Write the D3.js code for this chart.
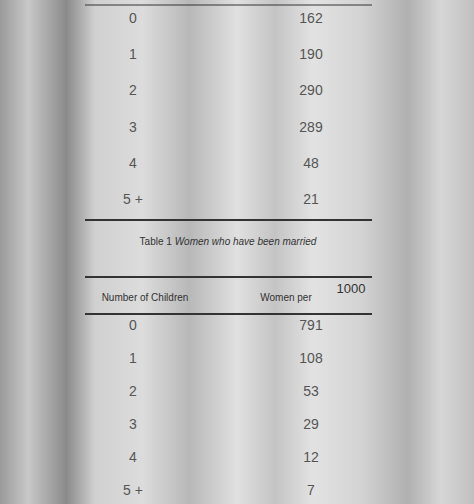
<!DOCTYPE html>
<html><head><meta charset="utf-8">
<script src="https://cdn.jsdelivr.net/npm/d3@7"></script>
<style>body{margin:0;background:#ccc}</style></head>
<body><svg id="c" width="474" height="504"></svg>
<script>
const children1 = ["0","1","2","3","4","5 +"];
const values1 = [162,190,290,289,48,21];
const children2 = ["0","1","2","3","4","5 +"];
const values2 = [791,108,53,29,12,7];
const caption = ["Table 1 ","Women who have been married"];
const headers = ["Number of Children","Women per","1000"];

const svg = d3.select("#c");
const defs = svg.append("defs");
const g = defs.append("linearGradient").attr("id","bg");
[[0,"#9a9a9a"],[0.06,"#c8c8c8"],[0.14,"#8a8a8a"],[0.2,"#d0d0d0"],[0.3,"#dcdcdc"],[0.4,"#b8b8b8"],[0.5,"#e0e0e0"],[0.58,"#c4c4c4"],[0.66,"#e2e2e2"],[0.76,"#d4d4d4"],[0.86,"#b0b0b0"],[0.93,"#d6d6d6"],[1,"#c0c0c0"]]
 .forEach(([o,c])=>g.append("stop").attr("offset",o).attr("stop-color",c));
svg.append("rect").attr("width",474).attr("height",504).attr("fill","url(#bg)");

const y1 = d3.scalePoint().domain(children1).range([18,199]);
const y2 = d3.scalePoint().domain(children2).range([325,490]);
const font = "Liberation Sans, Arial, sans-serif";
const col = "#555";
function rows(cats, vals, y){
  svg.append("g").selectAll("text.a").data(cats).join("text")
    .attr("x",133).attr("y",d=>y(d)).attr("dy","0.35em").attr("text-anchor","middle")
    .attr("font-family",font).attr("font-size",14).attr("fill",col).text(d=>d);
  svg.append("g").selectAll("text.b").data(vals).join("text")
    .attr("x",311).attr("y",(d,i)=>y(cats[i])).attr("dy","0.35em").attr("text-anchor","middle")
    .attr("font-family",font).attr("font-size",14).attr("fill",col).text(d=>d);
}
rows(children1, values1, y1);
rows(children2, values2, y2);
[[5,1],[220,2],[277,2],[314,2]].forEach(([y,w])=>
  svg.append("line").attr("x1",85).attr("x2",372).attr("y1",y).attr("y2",y).attr("stroke","#333").attr("stroke-width",w));
const cap = svg.append("text").attr("x",228).attr("y",245).attr("text-anchor","middle")
  .attr("font-family",font).attr("font-size",10).attr("fill","#333");
cap.append("tspan").text(caption[0]);
cap.append("tspan").attr("font-style","italic").text(caption[1]);
svg.append("text").attr("x",145).attr("y",301).attr("text-anchor","middle").attr("font-family",font).attr("font-size",10).attr("fill","#333").text(headers[0]);
svg.append("text").attr("x",286).attr("y",301).attr("text-anchor","middle").attr("font-family",font).attr("font-size",10).attr("fill","#333").text(headers[1]);
svg.append("text").attr("x",351).attr("y",293).attr("text-anchor","middle").attr("font-family",font).attr("font-size",13).attr("fill","#333").text(headers[2]);
</script></body></html>
